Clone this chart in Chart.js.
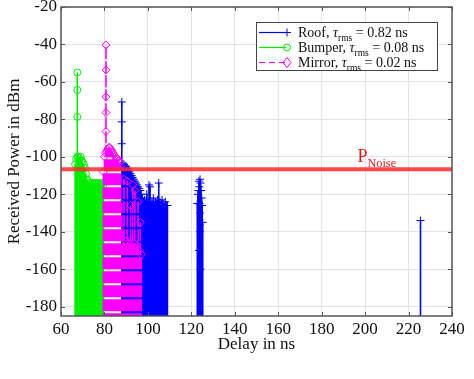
<!DOCTYPE html>
<html>
<head>
<meta charset="utf-8">
<script src="https://cdn.jsdelivr.net/npm/chart.js@4.4.1/dist/chart.umd.min.js"></script>
<style>
  html, body { margin: 0; padding: 0; background: #fff; }
  #wrap { width: 474px; height: 379px; }
</style>
</head>
<body>
<div id="wrap"><canvas id="chart" width="474" height="379"></canvas></div>
<script>
// tick labels
const xTicks = [60, 80, 100, 120, 140, 160, 180, 200, 220, 240];
const yTicks = [-180, -160, -140, -120, -100, -80, -60, -40, -20];

// noise floor
const noiseLevel = -106.6;

// Roof: delay (ns) and received power (dBm) of each path
const roofDelay = [88, 88, 88, 88, 88.5, 89, 89.5, 90, 90.5, 91, 91.5, 92, 92.5, 93, 93.5, 94, 94.5, 95,
  95.5, 96, 96.5, 97, 97.5, 98, 98.5, 99, 99.5, 100, 100.5, 101, 101.5, 102, 102.5, 103, 103.5,
  104, 104.5, 105, 105.5, 106, 106.5, 107, 107.5, 108, 108.5, 109,
  122.75, 123, 123.25, 123.5, 123.5, 123.75, 123.75, 124, 124, 124, 124.25, 124.25, 124.5, 124.75, 125, 125.25,
  225.5];
const roofPower = [-70.7, -81.3, -93, -104, -104, -104, -105, -105, -106, -107, -108, -109, -110, -111, -112, -113, -114, -115,
  -116, -117, -118, -120, -122, -124, -123, -125, -120, -124, -115, -116, -124, -125, -122, -126, -124,
  -125, -123, -114, -124, -126, -123, -125, -127, -124, -126, -126,
  -125, -120, -118, -113, -150, -116, -125, -112, -130, -140, -114, -160, -118, -122, -126, -135,
  -134];

// Bumper
const bumperDelay = [66.5, 67, 67.5, 67.5, 67.5, 67.5, 68, 68.5, 69, 69.5, 70, 70.5, 71, 71.5, 72, 72.5, 73,
  73.5, 74, 74.5, 75, 75.5, 76, 76.5, 77, 77.5, 78, 78.5, 79, 79.5];
const bumperPower = [-104, -101, -100, -55, -64.3, -78.7, -100, -101, -100, -102, -103, -104, -106, -109, -112, -113, -114,
  -114, -115, -114, -115, -114, -114, -115, -114, -115, -114, -115, -114, -115];

// Mirror
const mirrorDelay = [79.5, 80, 80.5, 80.7, 80.7, 80.7, 80.7, 80.7, 81, 81.5, 82, 82.5, 83, 83.5, 84, 84.5, 85,
  85.5, 86, 86.5, 87, 87.5, 88, 88.5, 89, 89.5, 90, 90.5, 91, 91.5, 92, 92.5, 93, 93.5, 94, 94.5,
  95, 95.5, 96, 96.5, 97];
const mirrorPower = [-108, -100, -98, -40.3, -53.6, -68, -76.4, -86.5, -97, -96, -95, -95, -96, -97, -98, -99, -100,
  -101, -101, -102, -103, -105, -125, -140, -112, -145, -145, -113, -146, -145, -126, -147, -115, -146, -118, -148,
  -147, -124, -150, -135, -152];

const BASE = -190;
const FONT = "'Liberation Serif', 'Times New Roman', serif";

// each path becomes a stem: base point, top point, then a gap
function stems(delays, powers) {
    const pts = [];
    delays.forEach((d, i) => {
        pts.push({x: d, y: BASE}, {x: d, y: powers[i]}, {x: d, y: null});
    });
    return pts;
}

function markerSize(r) {
    return ctx => (ctx.raw && ctx.raw.y !== null && ctx.raw.y > BASE) ? r : 0;
}

function drawMarker(ctx, style, x, y, color) {
    ctx.save();
    ctx.strokeStyle = color;
    ctx.lineWidth = 1;
    ctx.setLineDash([]);
    ctx.beginPath();
    if (style === 'cross') {
        ctx.moveTo(x - 4, y); ctx.lineTo(x + 4, y);
        ctx.moveTo(x, y - 4); ctx.lineTo(x, y + 4);
    } else if (style === 'circle') {
        ctx.arc(x, y, 3.5, 0, Math.PI * 2);
    } else {
        ctx.moveTo(x, y - 5); ctx.lineTo(x + 4, y); ctx.lineTo(x, y + 5); ctx.lineTo(x - 4, y); ctx.closePath();
    }
    ctx.stroke();
    ctx.restore();
}

// text with tau and subscripts
function drawRich(ctx, x, y, parts, size, color) {
    ctx.fillStyle = color;
    ctx.textBaseline = 'alphabetic';
    ctx.textAlign = 'left';
    parts.forEach(p => {
        const s = p.sub ? size * 0.68 : size;
        ctx.font = (p.italic ? 'italic ' : '') + s + 'px ' + FONT;
        ctx.fillText(p.t, x, y + (p.sub ? size * 0.25 : 0));
        x += ctx.measureText(p.t).width;
    });
}

const legendItems = [
    {name: 'Roof, ', value: ' = 0.82 ns', color: '#0000ff', style: 'cross', dash: []},
    {name: 'Bumper, ', value: ' = 0.08 ns', color: '#00ee00', style: 'circle', dash: []},
    {name: 'Mirror, ', value: ' = 0.02 ns', color: '#ff00ff', style: 'diamond', dash: [6, 4]}
];

const framePlugin = {
    id: 'frame',
    afterDatasetsDraw(chart) {
        const {ctx, chartArea: a, scales: {x, y}} = chart;
        ctx.save();
        ctx.strokeStyle = '#555';
        ctx.lineWidth = 1;
        ctx.beginPath();
        xTicks.forEach(v => {
            const px = Math.round(x.getPixelForValue(v)) + 0.5;
            ctx.moveTo(px, a.bottom); ctx.lineTo(px, a.bottom - 4);
            ctx.moveTo(px, a.top); ctx.lineTo(px, a.top + 4);
        });
        yTicks.forEach(v => {
            const py = Math.round(y.getPixelForValue(v)) + 0.5;
            ctx.moveTo(a.left, py); ctx.lineTo(a.left + 4, py);
            ctx.moveTo(a.right, py); ctx.lineTo(a.right - 4, py);
        });
        ctx.stroke();
        ctx.lineWidth = 1.5;
        ctx.strokeRect(a.left, a.top, a.right - a.left, a.bottom - a.top);

        // noise label
        const ny = y.getPixelForValue(noiseLevel);
        drawRich(ctx, x.getPixelForValue(196.5), ny - 7, [{t: 'P'}, {t: 'Noise', sub: true}], 18, '#e01818');

        // legend
        const lx = 256, ly = 22, lw = 181, lh = 48;
        ctx.fillStyle = '#fff';
        ctx.fillRect(lx, ly, lw, lh);
        ctx.strokeStyle = '#444';
        ctx.lineWidth = 1;
        ctx.strokeRect(lx + 0.5, ly + 0.5, lw, lh);
        legendItems.forEach((it, i) => {
            const ry = ly + 10.5 + i * 15;
            ctx.strokeStyle = it.color;
            ctx.lineWidth = 1.2;
            ctx.setLineDash(it.dash);
            ctx.beginPath();
            ctx.moveTo(lx + 3, ry); ctx.lineTo(lx + 30, ry);
            ctx.stroke();
            ctx.setLineDash([]);
            drawMarker(ctx, it.style, lx + 31, ry, it.color);
            drawRich(ctx, lx + 42, ry + 4.5,
                [{t: it.name}, {t: 'τ', italic: true}, {t: 'rms', sub: true}, {t: it.value}], 14, '#111');
        });
        ctx.restore();
    }
};

new Chart(document.getElementById('chart').getContext('2d'), {
    type: 'line',
    data: {
        datasets: [{
            label: 'PNoise',
            data: [{x: 60, y: noiseLevel}, {x: 240, y: noiseLevel}],
            borderColor: 'rgba(255, 40, 40, 0.85)',
            borderWidth: 4,
            pointRadius: 0,
            order: 0
        }, {
            label: 'Mirror',
            data: stems(mirrorDelay, mirrorPower),
            borderColor: '#ff00ff',
            borderWidth: 1.6,
            borderDash: [12, 2],
            pointStyle: 'rectRot',
            pointRadius: markerSize(4),
            pointBorderColor: '#ff00ff',
            pointBackgroundColor: 'rgba(0,0,0,0)',
            pointBorderWidth: 1,
            spanGaps: false,
            order: 1
        }, {
            label: 'Bumper',
            data: stems(bumperDelay, bumperPower),
            borderColor: '#00ee00',
            borderWidth: 1.6,
            pointStyle: 'circle',
            pointRadius: markerSize(3.5),
            pointBorderColor: '#00ee00',
            pointBackgroundColor: 'rgba(0,0,0,0)',
            pointBorderWidth: 1,
            spanGaps: false,
            order: 2
        }, {
            label: 'Roof',
            data: stems(roofDelay, roofPower),
            borderColor: '#0000ff',
            borderWidth: 1.6,
            pointStyle: 'cross',
            pointRadius: markerSize(4),
            pointBorderColor: '#0000ff',
            pointBorderWidth: 1,
            spanGaps: false,
            order: 3
        }]
    },
    options: {
        responsive: false,
        animation: false,
        devicePixelRatio: 1,
        layout: {padding: {top: 7, right: 22, bottom: 24, left: 0}},
        plugins: {legend: {display: false}, tooltip: {enabled: false}},
        scales: {
            x: {
                type: 'linear',
                min: 60,
                max: 240,
                afterBuildTicks: s => { s.ticks = xTicks.map(v => ({value: v})); },
                afterFit: s => { s.height = 39; s.paddingLeft = 0; s.paddingRight = 0; },
                grid: {color: '#e4e4e4', drawTicks: false},
                border: {display: false},
                ticks: {color: '#111', padding: 3, maxRotation: 0, font: {family: FONT, size: 17}},
                title: {display: true, text: 'Delay in ns', color: '#111', padding: 0, font: {family: FONT, size: 17}}
            },
            y: {
                type: 'linear',
                min: -185,
                max: -20,
                afterBuildTicks: s => { s.ticks = yTicks.map(v => ({value: v})); },
                afterFit: s => { s.width = 61; s.paddingTop = 0; s.paddingBottom = 0; },
                grid: {color: '#e4e4e4', drawTicks: false},
                border: {display: false},
                ticks: {color: '#111', padding: 4, font: {family: FONT, size: 17}},
                title: {display: true, text: 'Received Power in dBm', color: '#111', padding: {top: 4, bottom: 0}, font: {family: FONT, size: 17}}
            }
        }
    },
    plugins: [framePlugin]
});
</script>
</body>
</html>
